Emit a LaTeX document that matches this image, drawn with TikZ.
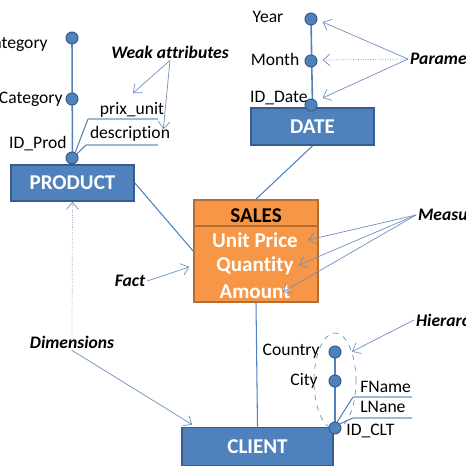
\documentclass[tikz,border=0pt]{standalone}
\usepackage{fontspec}
\setmainfont{Carlito}[Ligatures=NoCommon]
\usetikzlibrary{
  positioning,
  arrows.meta,
  calc,
  shapes.geometric
}
\definecolor{dimblue}{HTML}{4F81BD}
\definecolor{dimedge}{HTML}{385D8A}
\definecolor{factorange}{HTML}{F79646}
\definecolor{factedge}{HTML}{B66D31}
\definecolor{notecol}{HTML}{6F8FBF}

\begin{document}
\begin{tikzpicture}[
  x=0.02cm, y=-0.02cm,
  dim/.style={draw=dimedge, fill=dimblue, line width=1pt, text=white,
              font=\fontsize{12}{14}\selectfont\bfseries},
  fact/.style={draw=factedge, fill=factorange, line width=1pt,
               minimum width=2.48cm, minimum height=2.04cm},
  measure/.style={text=white, font=\fontsize{12}{14}\selectfont\bfseries, inner sep=0pt},
  dot/.style={circle, fill=dimblue, draw=dimedge, line width=0.6pt,
              inner sep=0pt, minimum size=0.24cm},
  lbl/.style={font=\fontsize{10}{12}\selectfont, inner sep=0pt},
  note/.style={font=\fontsize{10}{12}\selectfont\bfseries\itshape, inner sep=1pt},
  link/.style={dimblue, line width=0.6pt},
  level/.style={dimblue, line width=0.9pt},
  attr/.style={dimblue!55, line width=0.6pt},
  pointer/.style={-{Straight Barb[length=1.4mm, width=2.4mm]}, notecol, line width=0.4pt}
]
  \clip (0,0) rectangle (466,466);

  % fact table
  \node[fact] (sales) at (256,251) {};
  \draw[factedge, line width=0.8pt] ($(sales.north west)+(0,27)$) -- ($(sales.north east)+(0,27)$);
  \node[measure, text=black] (salestitle) at (256,216) {SALES};
  \node[measure] (price) at (255,240) {Unit Price};
  \node[measure] (qty) at (255,266) {Quantity};
  \node[measure] (amount) at (255,292) {Amount};

  % dimensions
  \node[dim, minimum width=2.46cm, minimum height=0.72cm] (product) at (72.5,183) {PRODUCT};
  \node[dim, minimum width=2.46cm, minimum height=0.74cm] (date) at (312.5,126.5) {DATE};
  \node[dim, minimum width=3.02cm, minimum height=0.76cm] (client) at (257.5,446.5) {CLIENT};

  \draw[link] (product.east) -- (sales.west);
  \draw[link] (date.south) -- (sales.north);
  \draw[link] (sales.south) -- (client.north);

  % product hierarchy
  \coordinate (prodtop) at (72,38);
  \draw[level] (prodtop) -- (product.north);
  \node[dot] (prodcat) at (72,38) {};
  \node[dot] (prodsub) at (72,99) {};
  \node[dot] (prodid) at (72,158) {};
  \node[lbl, anchor=east] (catlbl) at (48,44) {Category};
  \node[lbl, anchor=east] (sublbl) at (63,99) {SubCategory};
  \node[lbl, anchor=east] (idprodlbl) at (67,144) {ID\_Prod};

  \node[lbl] (prixlbl) at (132,110) {prix\_unit};
  \node[lbl] (desclbl) at (130,134) {description};
  \coordinate (prixa) at (88,119);
  \coordinate (prixb) at (158,119);
  \coordinate (desca) at (86,145);
  \coordinate (descb) at (158,145);
  \draw[link] (prodid.60) -- (prixa);
  \draw[attr] (prixa) -- (prixb);
  \draw[link] (prodid.40) -- (desca);
  \draw[attr] (desca) -- (descb);

  % date hierarchy
  \draw[level] (311,19) -- (date.north);
  \node[dot] (year) at (311,19) {};
  \node[dot] (month) at (311,61) {};
  \node[dot] (iddate) at (311,105) {};
  \node[lbl] (yearlbl) at (268,17) {Year};
  \node[lbl] (monthlbl) at (275,59) {Month};
  \node[lbl, anchor=east] (iddatelbl) at (308,98) {ID\_Date};

  % client hierarchy
  \draw[level] (335,352) -- (client.north -| 335,352);
  \node[dot] (country) at (335,352) {};
  \node[dot] (city) at (335,381) {};
  \node[dot] (idclt) at (335,428) {};
  \node[lbl, anchor=east] (countrylbl) at (320,351) {Country};
  \node[lbl, anchor=east] (citylbl) at (318,381) {City};
  \node[lbl, anchor=west] (idcltlbl) at (346,431) {ID\_CLT};
  \node[lbl, anchor=west] (fnamelbl) at (360,387) {FName};
  \node[lbl, anchor=west] (lnamelbl) at (360,407) {LNane};
  \coordinate (fnamea) at (353,397);
  \coordinate (fnameb) at (412,397);
  \coordinate (lnamea) at (353,418);
  \coordinate (lnameb) at (412,418);
  \draw[link] (idclt.70) -- (fnamea);
  \draw[attr] (fnamea) -- (fnameb);
  \draw[link] (idclt.40) -- (lnamea);
  \draw[attr] (lnamea) -- (lnameb);
  \node[draw=notecol, dashed, line width=0.4pt, ellipse, inner sep=0pt,
        minimum width=0.84cm, minimum height=1.92cm] (hier) at (335,381) {};

  % annotations
  \node[note] (weak) at (170,52) {Weak attributes};
  \draw[pointer] (weak.south) -- ($(prixlbl.north)+(1,-9)$);
  \draw[pointer] (weak.south) -- ($(desclbl.north east)+(-7,3)$);

  \node[note, anchor=west] (param) at (408,59) {Parameters};
  \draw[pointer] (param.west) -- ($(year.east)+(5,3)$);
  \draw[pointer, densely dotted] (param.west) -- ($(month.east)+(5,-1)$);
  \draw[pointer] (param.west) -- ($(iddate.east)+(5,-7)$);

  \node[note, anchor=west] (meas) at (416,215) {Measures};
  \draw[pointer] (meas.west) -- ($(price.east)+(10,0)$);
  \draw[pointer] (meas.west) -- ($(qty.east)+(5,-1)$);
  \draw[pointer] (meas.west) -- ($(amount.east)+(-8,0)$);

  \node[note] (factnote) at (130,281) {Fact};
  \draw[pointer] (factnote.east) -- ($(sales.west)+(-4,16)$);

  \node[note, anchor=west] (hiernote) at (414,320) {Hierarchies};
  \draw[pointer] (hiernote.west) -- (hier.60);

  \node[note] (dimnote) at (72,342) {Dimensions};
  \draw[pointer, densely dotted] (dimnote.north) -- (product.south);
  \draw[pointer] (dimnote.south) -- ($(client.north west)+(11,-2)$);
\end{tikzpicture}
\end{document}
